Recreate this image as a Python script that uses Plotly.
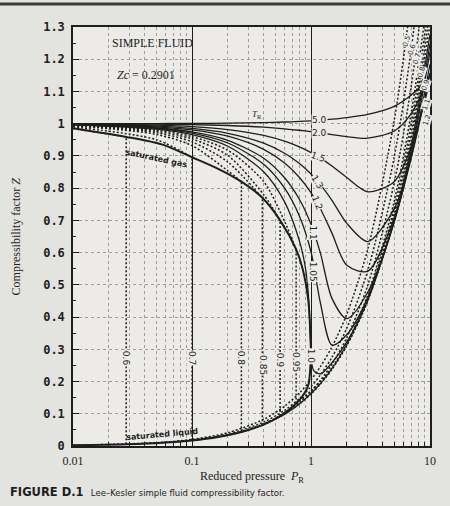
import plotly.graph_objects as go
import numpy as np

# reduced pressure grid of the Lee-Kesler table
PR = [0.01, 0.05, 0.1, 0.2, 0.4, 0.6, 0.8, 1.0, 1.2, 1.5, 2.0, 3.0, 5.0, 7.0, 10.0]

# supercritical isotherms (solid)
Z_TR_50 = [1.0000, 1.0004, 1.0008, 1.0017, 1.0034, 1.0052, 1.0070, 1.0090, 1.0110, 1.0140, 1.0190, 1.0290, 1.0540, 1.0900, 1.1450]
Z_TR_20 = [0.9997, 0.9986, 0.9972, 0.9944, 0.9892, 0.9842, 0.9796, 0.9754, 0.9715, 0.9664, 0.9599, 0.9550, 0.9772, 1.0328, 1.1516]
Z_TR_15 = [0.9991, 0.9954, 0.9909, 0.9818, 0.9636, 0.9456, 0.9278, 0.9103, 0.8933, 0.8689, 0.8328, 0.7887, 0.8200, 0.9297, 1.1339]
Z_TR_13 = [0.9985, 0.9926, 0.9852, 0.9702, 0.9396, 0.9083, 0.8764, 0.8438, 0.8111, 0.7624, 0.6908, 0.6344, 0.7358, 0.8998, 1.1580]
Z_TR_12 = [0.9981, 0.9904, 0.9808, 0.9611, 0.9205, 0.8779, 0.8330, 0.7858, 0.7363, 0.6605, 0.5605, 0.5425, 0.7069, 0.8990, 1.1844]
Z_TR_11 = [0.9975, 0.9874, 0.9747, 0.9485, 0.8930, 0.8323, 0.7649, 0.6880, 0.5984, 0.4580, 0.3953, 0.4770, 0.6950, 0.9110, 1.2232]
Z_TR_105 = [0.9971, 0.9855, 0.9707, 0.9401, 0.8743, 0.8002, 0.7130, 0.6026, 0.4437, 0.3131, 0.3452, 0.4604, 0.6956, 0.9222, 1.2481]

# critical isotherm Tr = 1.0, split at the cusp
TR1_VAP_PR = [0.01, 0.05, 0.1, 0.2, 0.4, 0.6, 0.8, 0.9, 0.95, 1.0]
TR1_VAP_Z = [0.9967, 0.9832, 0.9659, 0.9300, 0.8509, 0.7574, 0.6355, 0.5500, 0.4700, 0.2901]
TR1_LIQ_PR = [1.0, 1.05, 1.2, 1.5, 2.0, 3.0, 5.0, 7.0, 10.0]
TR1_LIQ_Z = [0.2901, 0.2350, 0.2237, 0.2583, 0.3229, 0.4522, 0.7004, 0.9372, 1.2772]

# subcritical isotherms (dotted): vapour branches
VAP_PR_06 = [0.01, 0.028]
VAP_Z_06 = [0.9849, 0.959]
VAP_PR_07 = [0.01, 0.05, 0.1]
VAP_Z_07 = [0.9904, 0.9504, 0.8958]
VAP_PR_08 = [0.01, 0.05, 0.1, 0.2, 0.26]
VAP_Z_08 = [0.9935, 0.9669, 0.9319, 0.8539, 0.82]
VAP_PR_085 = [0.01, 0.05, 0.1, 0.2, 0.39]
VAP_Z_085 = [0.9946, 0.9725, 0.9436, 0.8810, 0.77]
VAP_PR_09 = [0.01, 0.05, 0.1, 0.2, 0.4, 0.55]
VAP_Z_09 = [0.9954, 0.9768, 0.9528, 0.9015, 0.7800, 0.70]
VAP_PR_095 = [0.01, 0.05, 0.1, 0.2, 0.4, 0.6, 0.75]
VAP_Z_095 = [0.9961, 0.9803, 0.9600, 0.9174, 0.8206, 0.6967, 0.61]

# subcritical isotherms (dotted): liquid branches
LIQ_PR_05 = PR
LIQ_Z_05 = [0.0021, 0.0103, 0.0207, 0.0413, 0.0825, 0.1236, 0.1647, 0.2056, 0.2465, 0.3077, 0.4092, 0.6110, 1.0094, 1.4017, 1.9801]
LIQ_PR_06 = [0.028, 0.05, 0.1, 0.2, 0.4, 0.6, 0.8, 1.0, 1.2, 1.5, 2.0, 3.0, 5.0, 7.0, 10.0]
LIQ_Z_06 = [0.0052, 0.0093, 0.0186, 0.0371, 0.0741, 0.1109, 0.1476, 0.1842, 0.2207, 0.2753, 0.3657, 0.5446, 0.8959, 1.2398, 1.7440]
LIQ_PR_07 = [0.1, 0.2, 0.4, 0.6, 0.8, 1.0, 1.2, 1.5, 2.0, 3.0, 5.0, 7.0, 10.0]
LIQ_Z_07 = [0.0172, 0.0344, 0.0687, 0.1027, 0.1366, 0.1703, 0.2038, 0.2538, 0.3364, 0.4991, 0.8161, 1.1241, 1.5729]
LIQ_PR_08 = [0.26, 0.4, 0.6, 0.8, 1.0, 1.2, 1.5, 2.0, 3.0, 5.0, 7.0, 10.0]
LIQ_Z_08 = [0.0430, 0.0661, 0.0985, 0.1307, 0.1626, 0.1942, 0.2411, 0.3182, 0.4690, 0.7598, 1.0400, 1.4456]
LIQ_PR_085 = [0.39, 0.6, 0.8, 1.0, 1.2, 1.5, 2.0, 3.0, 5.0, 7.0, 10.0]
LIQ_Z_085 = [0.0646, 0.0983, 0.1301, 0.1614, 0.1924, 0.2382, 0.3132, 0.4591, 0.7388, 1.0071, 1.3943]
LIQ_PR_09 = [0.55, 0.6, 0.8, 1.0, 1.2, 1.5, 2.0, 3.0, 5.0, 7.0, 10.0]
LIQ_Z_09 = [0.093, 0.1006, 0.1321, 0.1630, 0.1935, 0.2383, 0.3114, 0.4527, 0.7220, 0.9793, 1.3496]
LIQ_PR_095 = [0.75, 0.8, 1.0, 1.2, 1.5, 2.0, 3.0, 5.0, 7.0, 10.0]
LIQ_Z_095 = [0.132, 0.1410, 0.1705, 0.1998, 0.2432, 0.3138, 0.4501, 0.7092, 0.9561, 1.3108]

# saturation pressures of the subcritical isotherms and the jump in Z
TR_SUB = ["0.6", "0.7", "0.8", "0.85", "0.9", "0.95"]
PSAT_SUB = [0.028, 0.1, 0.26, 0.39, 0.55, 0.75]
ZGAS_SUB = [0.959, 0.8958, 0.82, 0.77, 0.70, 0.61]
ZLIQ_SUB = [0.0052, 0.0172, 0.043, 0.0646, 0.093, 0.132]
LABEL_Z_SUB = [0.273, 0.273, 0.273, 0.25, 0.267, 0.26]

# saturation envelope
SAT_PR = [0.01, 0.028, 0.0565, 0.1, 0.166, 0.26, 0.39, 0.55, 0.75, 0.85, 0.95, 1.0]
SAT_GAS_Z = [0.986, 0.959, 0.935, 0.896, 0.86, 0.82, 0.77, 0.70, 0.61, 0.55, 0.45, 0.2901]
SAT_LIQ_Z = [0.0022, 0.0052, 0.0098, 0.0172, 0.028, 0.043, 0.0646, 0.093, 0.132, 0.155, 0.19, 0.2901]

INK = "#1e1e1e"
PAPER = "#e3e3e0"
PLOTBG = "#ecebe8"
SERIF = "Liberation Serif"

fig = go.Figure()


def add_line(x, y, dash="solid", width=1.2, shape="spline"):
    fig.add_trace(go.Scatter(x=x, y=y, mode="lines",
                             line=dict(color=INK, width=width, dash=dash, shape=shape, smoothing=0.8),
                             hoverinfo="skip", showlegend=False))


# dotted subcritical isotherms
for xv, yv in [(VAP_PR_06, VAP_Z_06), (VAP_PR_07, VAP_Z_07), (VAP_PR_08, VAP_Z_08),
               (VAP_PR_085, VAP_Z_085), (VAP_PR_09, VAP_Z_09), (VAP_PR_095, VAP_Z_095),
               (LIQ_PR_05, LIQ_Z_05), (LIQ_PR_06, LIQ_Z_06), (LIQ_PR_07, LIQ_Z_07),
               (LIQ_PR_08, LIQ_Z_08), (LIQ_PR_085, LIQ_Z_085), (LIQ_PR_09, LIQ_Z_09),
               (LIQ_PR_095, LIQ_Z_095)]:
    add_line(xv, yv, dash="2px,2px", width=1.5)

for p, zg, zl in zip(PSAT_SUB, ZGAS_SUB, ZLIQ_SUB):
    add_line([p, p], [zl, zg], dash="2px,2px", width=1.5, shape="linear")

# solid supercritical isotherms
for zv in [Z_TR_50, Z_TR_20, Z_TR_15, Z_TR_13, Z_TR_12, Z_TR_11, Z_TR_105]:
    add_line(PR, zv, width=1.3)
add_line(TR1_VAP_PR, TR1_VAP_Z, width=1.3)
add_line(TR1_LIQ_PR, TR1_LIQ_Z, width=1.3)

# saturation curves
add_line(SAT_PR, SAT_GAS_Z, width=2.0)
add_line(SAT_PR, SAT_LIQ_Z, width=2.0)

ann = []


def label(text, pr, z, angle=0, size=9, bg=PLOTBG, family="DejaVu Sans", **kw):
    ann.append(dict(x=np.log10(pr), y=z, xref="x", yref="y", text=text, showarrow=False,
                    textangle=angle, bgcolor=bg, borderpad=0,
                    font=dict(family=family, size=size, color=INK), **kw))


# isotherm labels on the Pr = 1 line
for txt, pr, z, ang in [("5.0", 1.17, 1.012, 0), ("2.0", 1.17, 0.971, 0),
                        ("1.5", 1.15, 0.897, 20), ("1.3", 1.13, 0.819, 58),
                        ("1.2", 1.13, 0.754, 68), ("1.1", 1.03, 0.664, 90),
                        ("1.05", 1.045, 0.54, 90), ("1.0", 1.0, 0.28, 90)]:
    label(txt, pr, z, ang, size=9)

for txt, p, z in zip(TR_SUB, PSAT_SUB, LABEL_Z_SUB):
    label(txt, p, z, 90, size=9)

# labels of the liquid branches at the top right
for txt, pr, z in [("0.5", 6.3, 1.255), ("0.6", 7.0, 1.23), ("0.7", 7.8, 1.20),
                   ("0.8", 8.5, 1.16), ("0.9", 9.2, 1.12), ("1.1", 9.4, 1.06),
                   ("1.2", 9.5, 1.01)]:
    label(txt, pr, z, -72, size=7)

label("<i>T</i><sub>R</sub>", 0.35, 1.027, 0, size=9, bg="rgba(0,0,0,0)", family=SERIF)
label("SIMPLE FLUID", 0.047, 1.25, 0, size=12, bg="rgba(0,0,0,0)", family=SERIF)
label("<i>Zc</i> = 0.2901", 0.041, 1.151, 0, size=12, bg="rgba(0,0,0,0)", family=SERIF)
label("<b>saturated gas</b>", 0.05, 0.893, 12, size=8, bg="rgba(0,0,0,0)")
label("<b>saturated liquid</b>", 0.0557, 0.037, -5, size=8, bg="rgba(0,0,0,0)")

# axis titles and caption
ann.append(dict(x=0.5, y=-0.074, xref="paper", yref="paper", showarrow=False,
                xanchor="center", yanchor="middle",
                text="Reduced pressure  <i>P</i><sub>R</sub>",
                font=dict(family=SERIF, size=12, color=INK)))
ann.append(dict(x=-0.16, y=0.5, xref="paper", yref="paper", showarrow=False, textangle=-90,
                xanchor="center", yanchor="middle",
                text="Compressibility factor <i>Z</i>",
                font=dict(family=SERIF, size=12, color=INK)))
ann.append(dict(x=-0.182, y=-0.11, xref="paper", yref="paper", showarrow=False, xanchor="left",
                yanchor="middle",
                text="<b>FIGURE D.1</b>  <span style='font-size:8.5px'>Lee\u2013Kesler simple fluid compressibility factor.</span>",
                font=dict(family="DejaVu Sans", size=11.5, color=INK)))

MINOR_X = [k * 10.0 ** e for e in (-2, -1, 0) for k in range(2, 10)]

fig.update_layout(
    width=450, height=506,
    margin=dict(l=73, r=20, t=27, b=60),
    paper_bgcolor=PAPER, plot_bgcolor=PLOTBG,
    showlegend=False,
    annotations=ann,
    shapes=[dict(type="line", xref="paper", yref="paper", x0=-0.25, x1=1.1, y0=1.055, y1=1.055,
                 line=dict(color="#3a3a3a", width=3), layer="above")],
    xaxis=dict(type="log", range=[-2, 1], tickvals=[0.01, 0.1, 1, 10],
               ticktext=["0.01", "0.1", "1", "10"],
               showgrid=True, gridcolor=INK, gridwidth=1.2,
               ticks="inside", ticklen=6, tickcolor=INK, ticklabelstandoff=3,
               showline=True, linecolor=INK, linewidth=1.5, mirror=True,
               tickfont=dict(family=SERIF, size=12, color=INK),
               minor=dict(tickvals=MINOR_X, ticks="inside", ticklen=4, tickcolor=INK,
                          showgrid=True, gridcolor="#9c9c9a", griddash="dot", gridwidth=1)),
    yaxis=dict(range=[0, 1.3], dtick=0.1, showgrid=True, gridcolor="#9c9c9a", griddash="dot",
               gridwidth=1, zeroline=False,
               ticks="inside", ticklen=6, tickcolor=INK, ticklabelstandoff=4,
               showline=True, linecolor=INK, linewidth=1.5, mirror=True,
               tickfont=dict(family="DejaVu Sans Mono", size=12, color=INK, weight="bold"),
               minor=dict(dtick=0.05, ticks="inside", ticklen=3, tickcolor=INK)),
)

# drop the default page margin so the figure sits flush in the window
fig.write_html("out.html", config={"displayModeBar": False},
               post_script="document.body.style.margin='0';document.body.style.background='%s';" % PAPER)
